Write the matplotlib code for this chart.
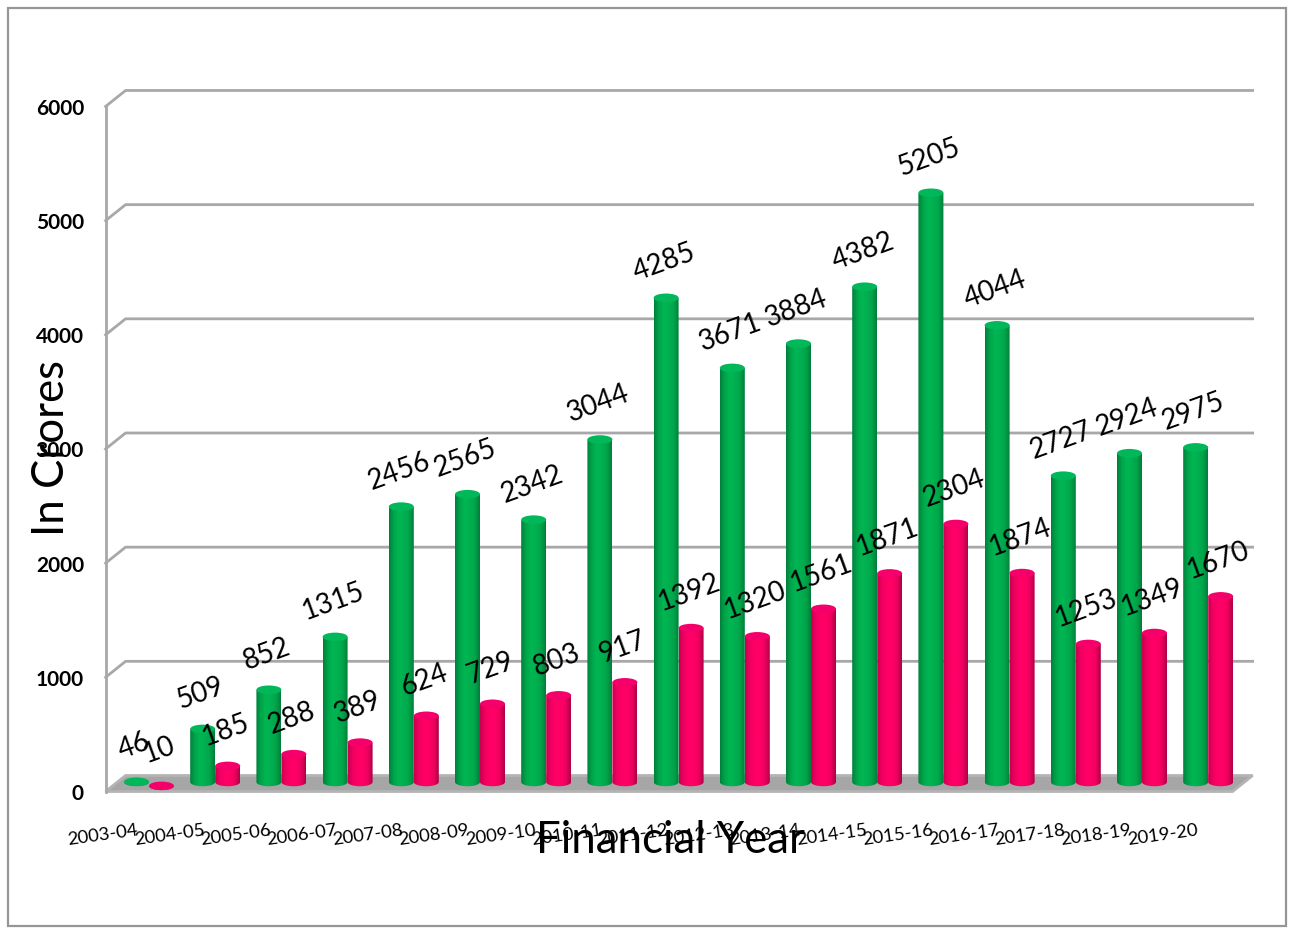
import numpy as np
import matplotlib
matplotlib.use('Agg')
import matplotlib.pyplot as plt
from matplotlib.colors import LinearSegmentedColormap
from matplotlib.patches import Ellipse, PathPatch, Polygon, Rectangle
from matplotlib.path import Path

years = ['2003-04', '2004-05', '2005-06', '2006-07', '2007-08', '2008-09',
         '2009-10', '2010-11', '2011-12', '2012-13', '2013-14', '2014-15',
         '2015-16', '2016-17', '2017-18', '2018-19', '2019-20']
green_vals = [46, 509, 852, 1315, 2456, 2565, 2342, 3044, 4285, 3671, 3884,
              4382, 5205, 4044, 2727, 2924, 2975]
red_vals = [10, 185, 288, 389, 624, 729, 803, 917, 1392, 1320, 1561, 1871,
            2304, 1874, 1253, 1349, 1670]
y_ticks = [0, 1000, 2000, 3000, 4000, 5000, 6000]

W, H = 1297, 937
PX_X = 66.2     # pixels per category
PX_Y = 0.11417  # pixels per value unit
X0, Y0 = 149, 788  # pixel of category 0, value 0

plt.rcParams['font.family'] = ['Lato', 'DejaVu Sans']

fig = plt.figure(figsize=(W / 100, H / 100), dpi=100)
ax = fig.add_axes([0, 0, 1, 1])
ax.axis('off')
xlim = (-X0 / PX_X, (W - X0) / PX_X)
ylim = ((Y0 - H) / PX_Y, Y0 / PX_Y)

# depth of the fake 3d box and bar sizes, in data units
dx = 10 / PX_X
dy = 8 / PX_Y
lift = 3.5 / PX_Y  # box sits a little above the bars' zero
bar_w = 25 / PX_X
ell_h = 8.5 / PX_Y
left, right = -0.505, 16.52
grid_c = '#a8a8a8'

# floor
ax.add_patch(Polygon([(left - dx, lift - dy), (left + dx, lift + dy),
                      (right + dx, lift + dy), (right - dx, lift - dy)],
                     closed=True, fc='#a6a6a6', ec='#b4b4b4', lw=2, zorder=1))
# walls
label_x = -X0 / PX_X + 84 / PX_X
for v in y_ticks[1:]:
    ax.plot([left - dx, left + dx, right + dx],
            [v + lift - dy, v + lift + dy, v + lift + dy], color=grid_c, lw=2, zorder=1)
    ax.text(label_x, v + lift - dy - 1.5 / PX_Y, str(v), ha='right', va='center',
            fontsize=15, fontweight='bold', color='black', zorder=6)
ax.text(label_x, lift - dy - 1.5 / PX_Y, '0', ha='right', va='center',
        fontsize=15, fontweight='bold', color='black', zorder=6)
ax.plot([left - dx, left - dx], [lift - dy, 6000 + lift - dy], color=grid_c, lw=2, zorder=1)

green_cm = LinearSegmentedColormap.from_list('g', ['#00803c', '#00a64b', '#00b652', '#00b050', '#00a54a', '#007f3a'])
red_cm = LinearSegmentedColormap.from_list('r', ['#c8004f', '#f00060', '#ff0066', '#ff0066', '#ee005f', '#ae0045'])
shade = np.linspace(0, 1, 64).reshape(1, -1)


def draw_bar(x, val, cmap, top_c, z):
    x0, x1 = x - bar_w / 2, x + bar_w / 2
    base = min(val, 5 / PX_Y)
    t = np.linspace(np.pi, 2 * np.pi, 30)
    base_x = x + bar_w / 2 * np.cos(t)
    base_y = base + ell_h / 2 * np.sin(t)
    verts = [(x0, val)] + list(zip(base_x, base_y)) + [(x1, val), (x0, val)]
    im = ax.imshow(shade, cmap=cmap, extent=(x0, x1, base - ell_h, val), aspect='auto', zorder=z)
    clip = PathPatch(Path(verts), transform=ax.transData, fc='none', ec='none')
    ax.add_patch(clip)
    im.set_clip_path(clip)
    ax.add_patch(Ellipse((x, val), bar_w, ell_h, fc=top_c, ec='none', zorder=z + 0.1))


for i in range(len(years)):
    draw_bar(i - bar_w / 2, green_vals[i], green_cm, '#00b85a', 3)
    draw_bar(i + bar_w / 2, red_vals[i], red_cm, '#f5006a', 4)
    ax.annotate(str(green_vals[i]), (i - bar_w / 2, green_vals[i]), xytext=(-2, 36.5),
                textcoords='offset pixels', ha='center', va='center', rotation=20,
                rotation_mode='anchor', fontsize=20, color='black', zorder=7)
    ax.annotate(str(red_vals[i]), (i + bar_w / 2, red_vals[i]), xytext=(-2, 36.5),
                textcoords='offset pixels', ha='center', va='center', rotation=20,
                rotation_mode='anchor', fontsize=20, color='black', zorder=7)
    ax.annotate(years[i], (i, 0), xytext=(-46, -47.5), textcoords='offset pixels',
                ha='center', va='center', rotation=8, rotation_mode='anchor',
                fontsize=13.3, color='black', zorder=7)

ax.set_xlim(xlim)
ax.set_ylim(ylim)

fig.text(52 / W, 1 - 448 / H, 'In Crores', rotation=90, ha='center', va='center',
         fontsize=31.5, color='black', zorder=8)
fig.text(670 / W, 1 - 841 / H, 'Financial Year', ha='center', va='center',
         fontsize=31.5, color='black', zorder=8)

fig.add_artist(Rectangle((8 / W, 1 - 927 / H), 1278 / W, 918 / H, transform=fig.transFigure,
                         fill=False, ec='#969696', lw=1.6))

fig.savefig('out.png', dpi=100, facecolor='white')
